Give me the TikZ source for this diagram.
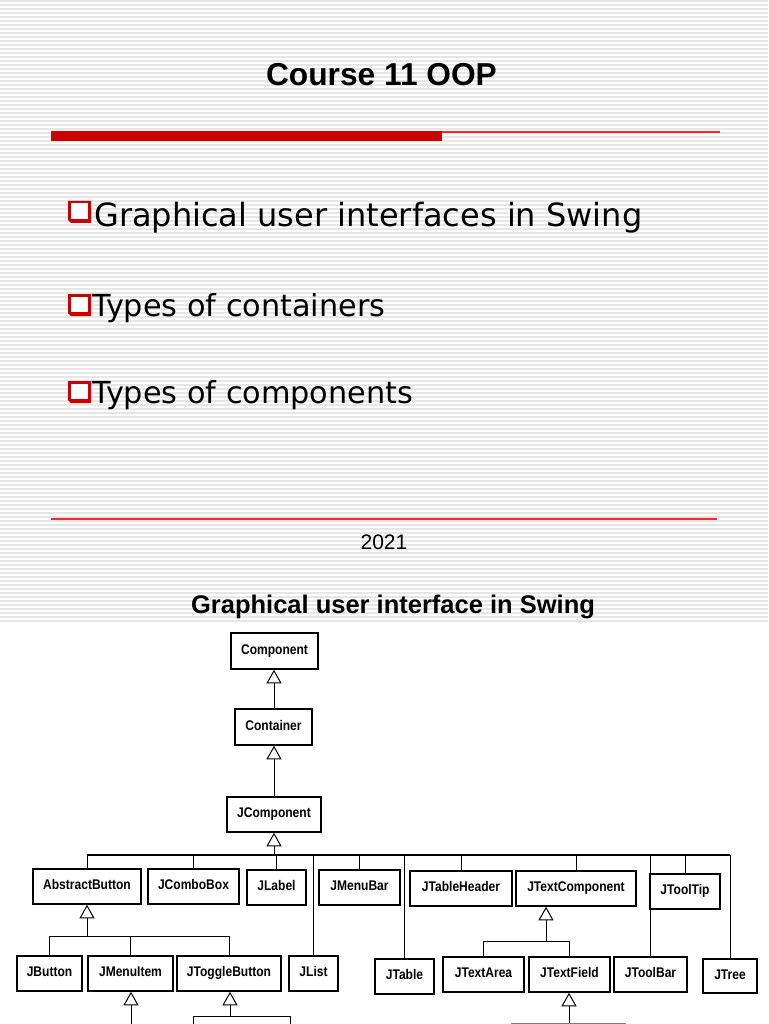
\documentclass[tikz,border=0pt]{standalone}
\usepackage{fontspec}
\setmainfont{Liberation Sans}
\newfontfamily\verdanafont{DejaVu Sans}
\newfontfamily\classfont[FakeStretch=0.86]{Liberation Sans}
\usetikzlibrary{arrows.meta}
\definecolor{slidered}{RGB}{204,0,0}
\definecolor{rulered}{RGB}{255,40,40}
\definecolor{stripegray}{RGB}{230,230,230}
\tikzset{
	classbox/.style={draw, line width=1.5pt, fill=white, inner sep=0pt, text height=10pt, text depth=4pt, font=\classfont\fontsize{14}{14}\selectfont\bfseries},
	inherit/.style={draw, line width=1pt, {Triangle[open, fill=white, length=13.5pt, width=15pt, line width=1pt]}-},
	branch/.style={draw, line width=1pt},
	mainbranch/.style={draw, line width=1.3pt},
	bullettext/.style={anchor=west, inner sep=0pt},
}
\newcommand{\slidebullet}[1]{
	\fill[slidered] (68,#1) ++(0,-11) -- ++(23,0) -- ++(0,22) -- ++(-20,0) -- ++(-3,-3) -- cycle;
	\fill[white] (71,#1) ++(0,-8.5) rectangle ++(16.5,15.5);
}
\begin{document}
\begin{tikzpicture}[x=1pt, y=-1pt]
	\useasboundingbox (0,0) rectangle (768,1024);
	\clip (0,0) rectangle (768,1024);

	% ---------------------
	% Slide background
	\fill[white] (0,0) rectangle (768,1024);
	\foreach \ypos in {0,4,...,620} {
		\fill[stripegray] (0,\ypos) rectangle (768,\ypos+2);
	}

	% ---------------------
	% First slide
	\node[font=\fontsize{31.7}{32}\selectfont\bfseries] (CourseTitle) at (381.5,75) {Course 11 OOP};
	\fill[slidered] (51,131) rectangle (442,141);
	\fill[rulered] (442,131) rectangle (720,133);

	\slidebullet{212}
	\node[bullettext, font=\verdanafont\fontsize{32}{32}\selectfont] (BulletGui) at (94,218) {Graphical user interfaces in Swing};
	\slidebullet{305}
	\node[bullettext, font=\verdanafont\fontsize{30.3}{30}\selectfont] (BulletContainers) at (92,308) {Types of containers};
	\slidebullet{392}
	\node[bullettext, font=\verdanafont\fontsize{30.3}{30}\selectfont] (BulletComponents) at (92,395) {Types of components};

	\fill[rulered] (51,518) rectangle (717,520);
	\node[font=\fontsize{21}{21}\selectfont] (CourseYear) at (384,542.5) {2021};

	% ---------------------
	% Second slide
	\node[font=\fontsize{25.5}{26}\selectfont\bfseries] (SwingTitle) at (393,607) {Graphical user interface in Swing};
	\fill[white] (0,622) rectangle (768,1024);

	% ---------------------
	% Class boxes
	\node[classbox, minimum width=87pt, minimum height=36pt] (Component) at (274.5,651) {Component};
	\node[classbox, minimum width=77pt, minimum height=36pt] (Container) at (273.5,727) {Container};
	\node[classbox, minimum width=94pt, minimum height=35pt] (JComponent) at (274,814.5) {JComponent};

	\node[classbox, minimum width=108pt, minimum height=35pt] (AbstractButton) at (87,886.5) {AbstractButton};
	\node[classbox, minimum width=91pt, minimum height=35pt] (JComboBox) at (193.5,886.5) {JComboBox};
	\node[classbox, minimum width=59pt, minimum height=35pt] (JLabel) at (276.5,887.5) {JLabel};
	\node[classbox, minimum width=81pt, minimum height=35pt] (JMenuBar) at (359.5,887.5) {JMenuBar};
	\node[classbox, minimum width=102pt, minimum height=35pt] (JTableHeader) at (461,888.5) {JTableHeader};
	\node[classbox, minimum width=120pt, minimum height=35pt] (JTextComponent) at (576,888.5) {JTextComponent};
	\node[classbox, minimum width=70pt, minimum height=35pt] (JToolTip) at (685,891.5) {JToolTip};

	\node[classbox, minimum width=65pt, minimum height=35pt] (JButton) at (49.5,973.5) {JButton};
	\node[classbox, minimum width=85pt, minimum height=35pt] (JMenuItem) at (130.5,973.5) {JMenuItem};
	\node[classbox, minimum width=104pt, minimum height=35pt] (JToggleButton) at (229,973.5) {JToggleButton};
	\node[classbox, minimum width=49pt, minimum height=35pt] (JList) at (313.5,973.5) {JList};
	\node[classbox, minimum width=59pt, minimum height=35pt] (JTable) at (404.5,976.5) {JTable};
	\node[classbox, minimum width=81pt, minimum height=35pt] (JTextArea) at (483.5,974.5) {JTextArea};
	\node[classbox, minimum width=81pt, minimum height=35pt] (JTextField) at (569.5,974.5) {JTextField};
	\node[classbox, minimum width=73pt, minimum height=35pt] (JToolBar) at (650.5,974.5) {JToolBar};
	\node[classbox, minimum width=54pt, minimum height=34pt] (JTree) at (730,976) {JTree};

	% ---------------------
	% Branch points
	\coordinate (MainBus) at (274,855);
	\coordinate (MainBusLeft) at (87,855);
	\coordinate (MainBusRight) at (730,855);
	\coordinate (ButtonBus) at (87,936);
	\coordinate (TextBus) at (546,941);
	\coordinate (ItemStem) at (131,1030);
	\coordinate (ToggleBus) at (230,1016);
	\coordinate (ToggleLeft) at (193,1030);
	\coordinate (ToggleRight) at (290,1030);
	\coordinate (FieldBus) at (569,1023);
	\coordinate (FieldLeft) at (511,1023);
	\coordinate (FieldRight) at (626,1023);

	% ---------------------
	% Inheritance
	\draw[inherit] (MainBus |- Component.south) -- (MainBus |- Container.north);
	\draw[inherit] (MainBus |- Container.south) -- (JComponent.north);

	\draw[inherit] (JComponent.south) -- (MainBus);
	\draw[mainbranch] (MainBusLeft) -- (MainBusRight);
	\foreach \child in {AbstractButton,JComboBox,JLabel,JList,JMenuBar,JTable,JTableHeader,JTextComponent,JToolBar,JToolTip,JTree} {
		\draw[branch] (\child.north) -- (\child.north |- MainBus);
	}

	\draw[inherit] (AbstractButton.south) -- (ButtonBus);
	\draw[branch] (JButton.north) |- (ButtonBus) -| (JToggleButton.north);
	\draw[branch] (JMenuItem.north) -- (JMenuItem.north |- ButtonBus);

	\draw[inherit] (TextBus |- JTextComponent.south) -- (TextBus);
	\draw[branch] (JTextArea.north) |- (TextBus) -| (JTextField.north);

	\draw[inherit] (ItemStem |- JMenuItem.south) -- (ItemStem);
	\draw[inherit] (ToggleBus |- JToggleButton.south) -- (ToggleBus);
	\draw[branch] (ToggleLeft) |- (ToggleBus) -| (ToggleRight);
	\draw[inherit] (FieldBus |- JTextField.south) -- (FieldBus);
	\draw[branch, gray] (FieldLeft) -- (FieldRight);

\end{tikzpicture}
\end{document}
